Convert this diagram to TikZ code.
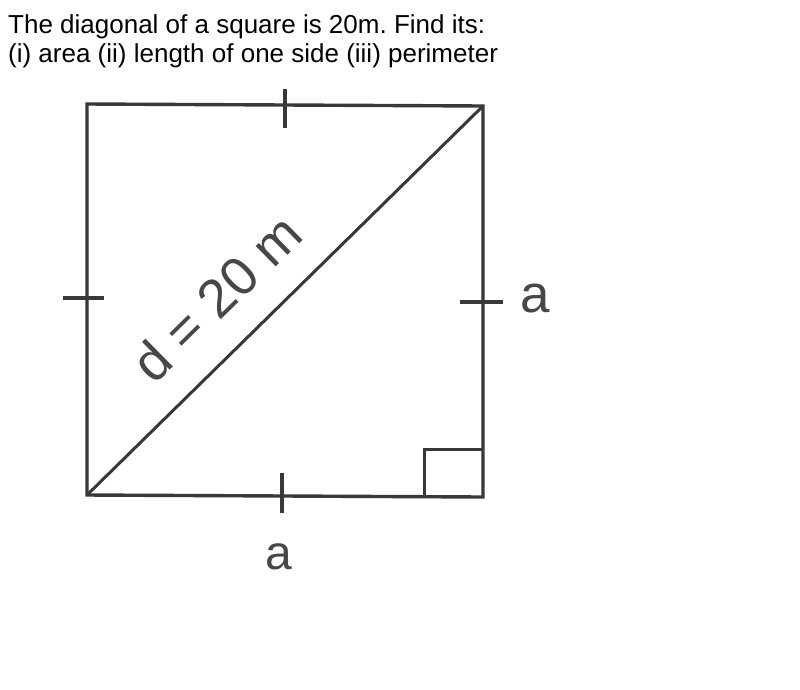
\documentclass[tikz,border=0pt]{standalone}
\usepackage{fontspec}
\setmainfont{Liberation Sans}
\frenchspacing
\begin{document}
\begin{tikzpicture}[x=1pt,y=-1pt,
  edge/.style={line width=3.4pt,draw=black!78,line cap=round,line join=miter},
  tickmark/.style={line width=3.2pt,draw=black!78},
  qtext/.style={font=\fontsize{26}{30}\selectfont,text=black,inner sep=0pt,anchor=base west},
  lbl/.style={text=black!72,inner sep=0pt}]
\useasboundingbox (0,0) rectangle (800,689);
\fill[white] (0,0) rectangle (800,689);
% question
\node[qtext] (q1) at (8,33) {The diagonal of a square is 20m. Find its:};
\node[qtext] (q2) at (8,62) {(i) area (ii) length of one side (iii) perimeter};
% square
\coordinate (TL) at (87,104);
\coordinate (TR) at (483,106);
\coordinate (BR) at (483,497);
\coordinate (BL) at (87,495);
\draw[edge] (TL) -- (TR) -- (BR) -- (BL) -- cycle;
\draw[line width=3pt,draw=black!78] (BL) -- (TR);
% right angle
\draw[line width=3pt,draw=black!78] (424,497) -- (424,449) -- (483,449);
% ticks
\draw[tickmark] (285,89) -- (285,128);
\draw[tickmark] (282,473) -- (282,513);
\draw[tickmark] (63,298) -- (104,298);
\draw[tickmark] (460,302) -- (503,302);
% labels
\path (BL) -- (TR) node[lbl,pos=0.415,sloped,above=30pt,anchor=south,font=\fontsize{54}{54}\selectfont] (d) {d = 20 m};
\node[lbl,anchor=base,font=\fontsize{53}{53}\selectfont] (ar) at (535,312) {a};
\node[lbl,anchor=base,font=\fontsize{48}{48}\selectfont] (ab) at (279,569) {a};
\end{tikzpicture}
\end{document}
